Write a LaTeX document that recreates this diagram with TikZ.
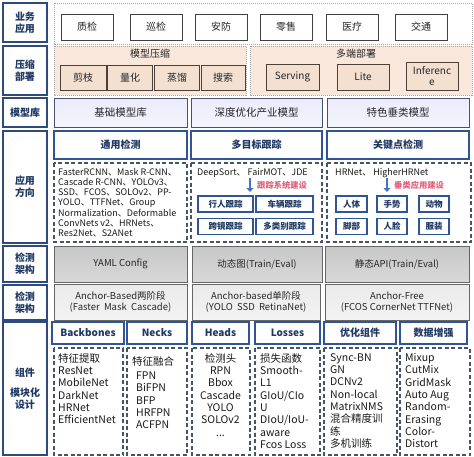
\documentclass[tikz,border=0pt]{standalone}
\usepackage{fontspec}
\setmainfont{Noto Sans CJK SC}
\usetikzlibrary{arrows.meta}
\usepackage{xcolor}

\definecolor{navy}{HTML}{1F3864}
\definecolor{sideblue}{HTML}{2F4A7F}
\definecolor{hdrblue}{HTML}{2F5597}
\definecolor{slate}{HTML}{44546A}
\definecolor{beige}{HTML}{F8E7DA}
\definecolor{beigebox}{HTML}{F3E0D1}
\definecolor{brownline}{HTML}{4D4038}
\definecolor{tipred}{HTML}{E0607A}
\definecolor{arrblue}{HTML}{4472C4}

\tikzset{
    sidebox/.style={draw=sideblue, line width=1.5pt, fill=white, text=navy, inner sep=0pt,
        minimum width=44pt, align=center, font=\bfseries\fontsize{10}{12}\selectfont},
    appbox/.style={draw=black!75, line width=0.9pt, fill=white, inner sep=0pt,
        minimum width=52pt, minimum height=26pt, text=black!85, font=\fontsize{10}{12}\selectfont},
    panel/.style={draw=gray!70, dash pattern=on 1pt off 1pt, line width=0.7pt},
    zipbox/.style={draw=brownline, line width=1pt, fill=beigebox, inner sep=0pt,
        minimum height=25pt, text=black!85, font=\fontsize{10}{11}\selectfont, align=center},
    libbox/.style={draw=slate, line width=1pt, top color=black!15!blue!8, bottom color=black!8!blue!4,
        inner sep=0pt, minimum height=29pt, text=black!85, font=\fontsize{10.5}{12}\selectfont},
    hdrbox/.style={draw=hdrblue, line width=1.2pt, fill=white, inner sep=0pt, text=navy,
        font=\bfseries\fontsize{10}{12}\selectfont},
    listbox/.style={draw=slate, line width=1.3pt, dash pattern=on 4pt off 2.5pt},
    tagbox/.style={draw=hdrblue, line width=1.1pt, fill=white, inner sep=0pt, minimum height=16pt,
        text=navy, font=\bfseries\fontsize{8.5}{10}\selectfont},
    archbox/.style={draw=black!60, line width=1pt, top color=black!22, bottom color=black!15,
        inner sep=0pt, minimum height=36pt, text=black!85, font=\fontsize{9.5}{10.5}\selectfont, align=center},
    anchbox/.style={archbox, top color=black!8, bottom color=black!5},
    notetext/.style={text=tipred, font=\bfseries\fontsize{8.3}{10}\selectfont, inner sep=0pt},
    listtext/.style={inner sep=0pt, align=left, text=black!90, font=\fontsize{9}{10.2}\selectfont},
    parttext/.style={inner sep=0pt, align=left, text=black!90, font=\fontsize{10.5}{12.35}\selectfont},
    downarrow/.style={-{Triangle[length=4pt,width=7pt]}, arrblue, line width=2.6pt}
}

\begin{document}
\begin{tikzpicture}[x=1pt, y=-1pt]
    \useasboundingbox (0,0) rectangle (474,456);

    % Left column
    \node[sidebox, minimum height=39pt] (yewu) at (25,22.5) {业务\\应用};
    \node[sidebox, minimum height=49pt] (yasuo) at (25,70.5) {压缩\\部署};
    \node[sidebox, minimum height=29pt] (moxingku) at (25,112.5) {模型库};
    \node[sidebox, minimum height=112pt] (fangxiang) at (25,187) {应用\\方向};
    \node[sidebox, minimum height=36pt] (jiagou) at (25,264) {检测\\架构};
    \node[sidebox, minimum height=35pt] (jiagoub) at (25,302.5) {检测\\架构};
    \node[sidebox, minimum height=133pt] (zujian) at (25,388.5) {组件\\[8pt]模块化\\设计};

    % Business applications
    \draw[panel] (54,3) rectangle (472,44);
    \node[appbox] (zhijian) at (87,27) {质检};
    \node[appbox] (xunjian) at (156,27) {巡检};
    \node[appbox] (anfang) at (221,27) {安防};
    \node[appbox] (lingshou) at (286,27) {零售};
    \node[appbox] (yiliao) at (352,27) {医疗};
    \node[appbox] (jiaotong) at (421,27) {交通};

    % Compression and deployment
    \draw[panel, fill=beige] (54,46) rectangle (246,95);
    \node[inner sep=0pt, text=black!85, font=\fontsize{10}{12}\selectfont] (ysTitle) at (150,54) {模型压缩};
    \node[zipbox, minimum width=46pt] (jianzhi) at (83,77.5) {剪枝};
    \node[zipbox, minimum width=45pt] (lianghua) at (130,77.5) {量化};
    \node[zipbox, minimum width=45pt] (zhengliu) at (177,77.5) {蒸馏};
    \node[zipbox, minimum width=44pt] (sousuo) at (223,77.5) {搜索};
    \draw[panel, fill=beige] (250,46) rectangle (472,95);
    \node[inner sep=0pt, text=black!85, font=\fontsize{10}{12}\selectfont] (bsTitle) at (356,54) {多端部署};
    \node[zipbox, minimum width=53pt, minimum height=26pt] (serving) at (292.5,77) {Serving};
    \node[zipbox, minimum width=52pt, minimum height=26pt] (lite) at (363,77) {Lite};
    \node[zipbox, minimum width=52pt, minimum height=28pt] (inference) at (432,76) {Inferenc\\e};

    % Model library
    \node[libbox, minimum width=133pt] (jichu) at (120.5,112.5) {基础模型库};
    \node[libbox, minimum width=131pt] (chanye) at (256.5,112.5) {深度优化产业模型};
    \node[libbox, minimum width=142pt] (chuilei) at (398,112.5) {特色垂类模型};

    % Application directions
    \node[hdrbox, minimum width=133pt, minimum height=28pt] (tongyong) at (120.5,145) {通用检测};
    \node[hdrbox, minimum width=131pt, minimum height=28pt] (genzong) at (256.5,145) {多目标跟踪};
    \node[hdrbox, minimum width=142pt, minimum height=28pt] (guanjian) at (398,145) {关键点检测};
    \draw[listbox] (54,163) rectangle (187,242);
    \draw[listbox] (191,163) rectangle (322,242);
    \draw[listbox] (327,163) rectangle (471,242);
    \node[listtext, anchor=north west] (tyList) at (58,168)
        {FasterRCNN、Mask R-CNN、\\Cascade R-CNN、YOLOv3、\\SSD、FCOS、SOLOv2、PP-\\YOLO、TTFNet、Group\\Normalization、Deformable\\ConvNets v2、HRNets、\\Res2Net、S2ANet};
    \node[listtext, anchor=north west] (deepsort) at (197,168) {DeepSort、 FairMOT、JDE};
    \coordinate (gzTop) at (250,178);
    \coordinate (gzBot) at (250,192);
    \draw[downarrow] (gzTop) -- (gzBot);
    \node[notetext, anchor=west] (gzNote) at (257,185) {跟踪系统建设};
    \node[tagbox, minimum width=55pt] (xingren) at (225.5,204) {行人跟踪};
    \node[tagbox, minimum width=57pt] (cheliang) at (284.5,204) {车辆跟踪};
    \node[tagbox, minimum width=55pt] (kuajing) at (225.5,226.5) {跨镜跟踪};
    \node[tagbox, minimum width=57pt] (duolei) at (284.5,226.5) {多类别跟踪};
    \node[listtext, anchor=north west] (hrnet) at (335,168) {HRNet、 HigherHRNet};
    \coordinate (gjTop) at (387,178);
    \coordinate (gjBot) at (387,192);
    \draw[downarrow] (gjTop) -- (gjBot);
    \node[notetext, anchor=west] (gjNote) at (394,185) {垂类应用建设};
    \node[tagbox, minimum width=31pt] (renti) at (351.5,204) {人体};
    \node[tagbox, minimum width=30pt] (shoushi) at (392,204) {手势};
    \node[tagbox, minimum width=30pt] (dongwu) at (434,204) {动物};
    \node[tagbox, minimum width=31pt] (jiaobu) at (351.5,226.5) {脚部};
    \node[tagbox, minimum width=30pt] (renlian) at (392,226.5) {人脸};
    \node[tagbox, minimum width=30pt] (fuzhuang) at (434,226.5) {服装};

    % Detection frameworks
    \node[archbox, minimum width=133pt] (yaml) at (120.5,264) {YAML Config};
    \node[archbox, minimum width=130pt] (dongtai) at (257,264) {动态图(Train/Eval)};
    \node[archbox, minimum width=144pt] (jingtai) at (397,264) {静态API(Train/Eval)};
    \node[anchbox, minimum width=133pt] (twostage) at (120.5,302) {Anchor-Based两阶段\\(Faster\ \ Mask\ \ Cascade)};
    \node[anchbox, minimum width=128pt] (onestage) at (256,302) {Anchor-based单阶段\\(YOLO\ \ SSD\ \ RetinaNet)};
    \node[anchbox, minimum width=144pt] (anchorfree) at (397,302) {Anchor-Free\\(FCOS CornerNet TTFNet)};

    % Modular components
    \node[hdrbox, minimum width=72pt, minimum height=22pt] (backbones) at (88,333) {Backbones};
    \node[hdrbox, minimum width=60pt, minimum height=22pt] (necks) at (157,333) {Necks};
    \node[hdrbox, minimum width=57pt, minimum height=22pt] (heads) at (220.5,333) {Heads};
    \node[hdrbox, minimum width=65pt, minimum height=22pt] (losses) at (287.5,333) {Losses};
    \node[hdrbox, minimum width=72pt, minimum height=22pt] (youhua) at (360,333) {优化组件};
    \node[hdrbox, minimum width=67pt, minimum height=22pt] (zengqiang) at (433.5,333) {数据增强};
    \draw[listbox] (54,348) rectangle (123,455);
    \draw[listbox] (127,348) rectangle (187,455);
    \draw[listbox] (192,348) rectangle (250,455);
    \draw[listbox] (255,348) rectangle (320,455);
    \draw[listbox] (324,348) rectangle (397,455);
    \draw[listbox] (400,348) rectangle (470,455);
    \node[parttext, anchor=north west] (bbList) at (58,353)
        {特征提取\\ResNet\\MobileNet\\DarkNet\\HRNet\\EfficientNet};
    \node[parttext, anchor=north west] (nkTitle) at (132,356) {特征融合};
    \node[parttext, anchor=north west] (nkList) at (136,371.5) {FPN\\BiFPN\\BFP\\HRFPN\\ACFPN};
    \node[parttext, anchor=north, align=center] (hdList) at (220.5,353)
        {检测头\\RPN\\Bbox\\Cascade\\YOLO\\SOLOv2\\...};
    \node[parttext, anchor=north west] (lsList) at (260,353)
        {损失函数\\Smooth-\\L1\\GIoU/CIo\\U\\DIoU/IoU-\\aware\\Fcos Loss};
    \node[parttext, anchor=north west] (yhList) at (330,353)
        {Sync-BN\\GN\\DCNv2\\Non-local\\MatrixNMS\\混合精度训\\练\\多机训练};
    \node[parttext, anchor=north west] (zqList) at (405,353)
        {Mixup\\CutMix\\GridMask\\Auto Aug\\Random-\\Erasing\\Color-\\Distort};
\end{tikzpicture}
\end{document}
